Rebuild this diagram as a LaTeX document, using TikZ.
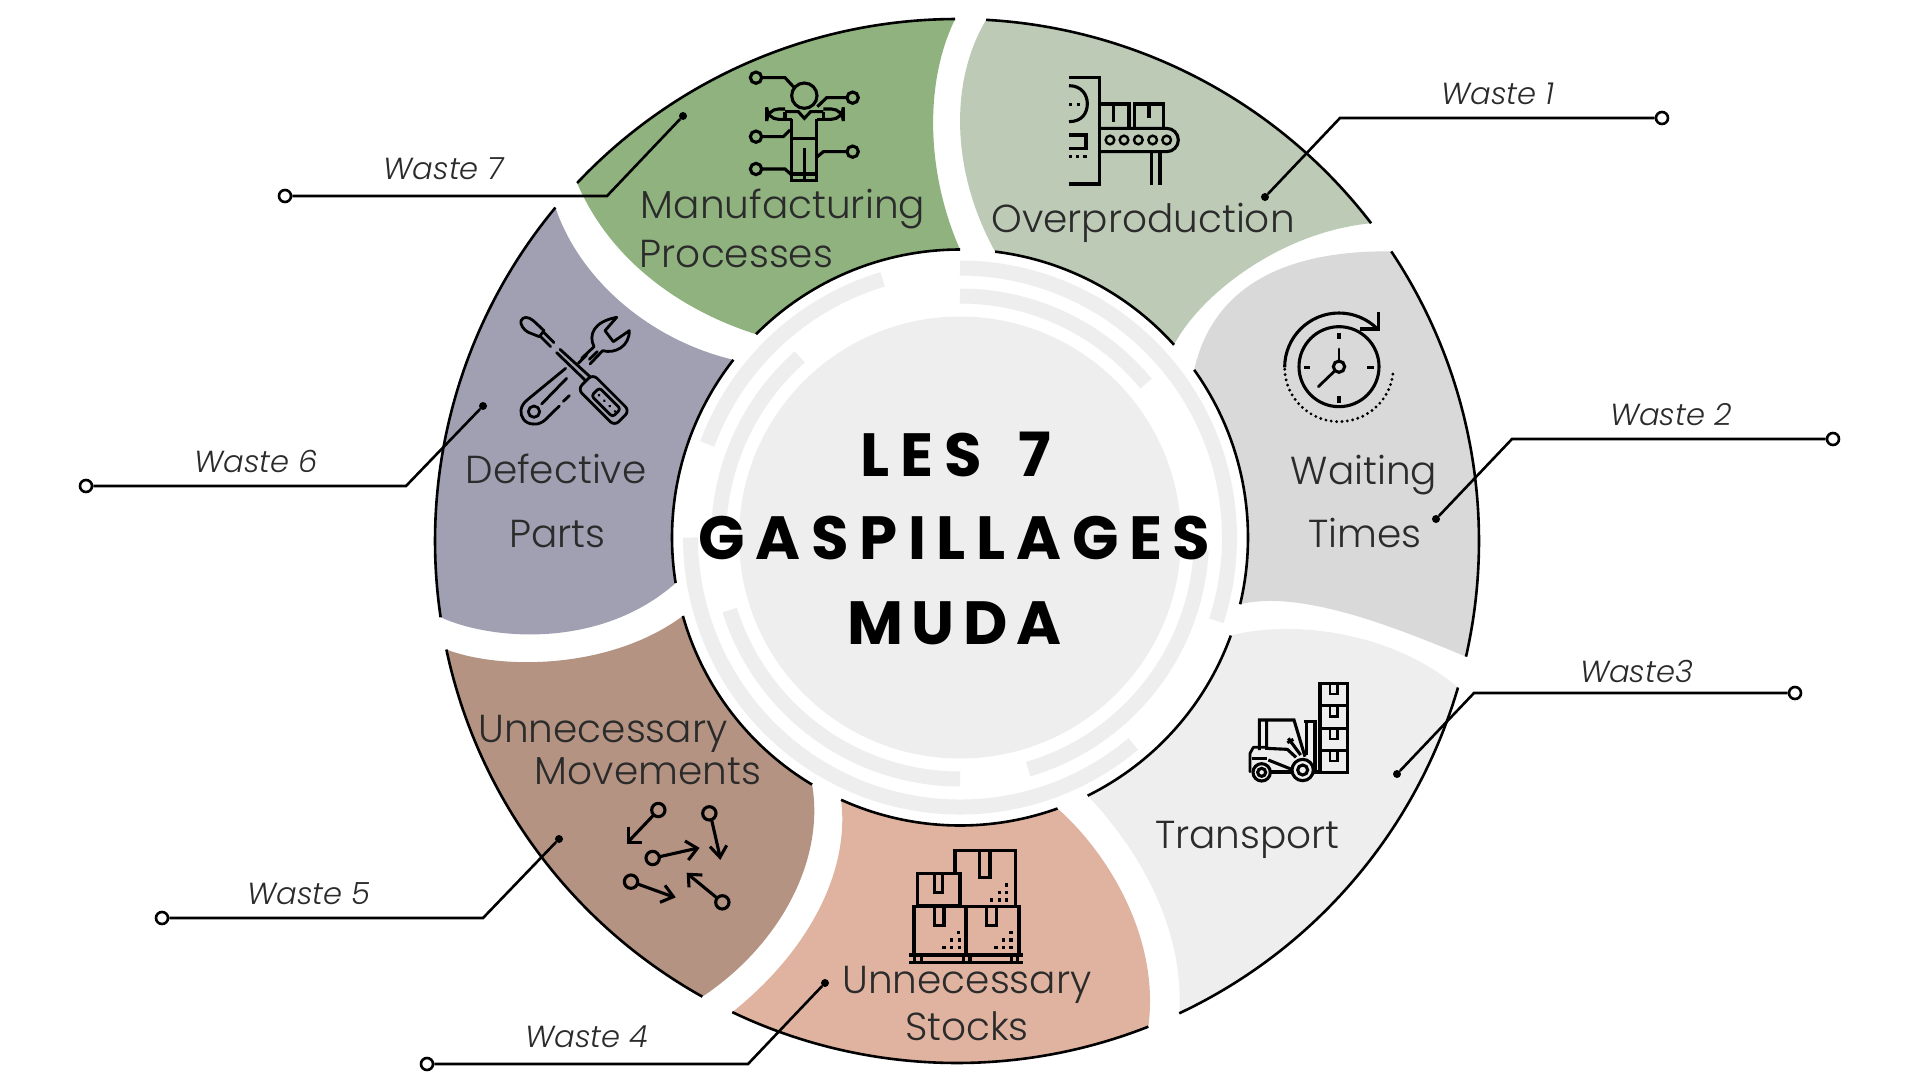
\documentclass[tikz,border=0pt]{standalone}
\usepackage{fontspec}
\newfontfamily\labfont{Poppins Light}
\newfontfamily\wastefont{Poppins Light Italic}
\newfontfamily\cenfont[LetterSpace=17.5]{Poppins}
\newfontfamily\cenfontb[LetterSpace=14]{Poppins}
\definecolor{cOver}{HTML}{BCCAB6}
\definecolor{cWait}{HTML}{D9D9D9}
\definecolor{cTrans}{HTML}{EEEEEE}
\definecolor{cStock}{HTML}{E0B3A0}
\definecolor{cMove}{HTML}{B49382}
\definecolor{cDef}{HTML}{A0A0B2}
\definecolor{cManu}{HTML}{8FB27F}
\definecolor{cRing}{HTML}{EEEEEE}
\definecolor{cTxt}{HTML}{2B2B2B}
\newcommand{\outarc}[2]{\draw[blk] ([shift={(#1:522)}]957,541) arc[start angle=#1,end angle=#2,radius=522];}
\newcommand{\inarc}[2]{\draw[blk] ([shift={(#1:288)}]960,537.5) arc[start angle=#1,end angle=#2,radius=288];}
\newcommand{\ringarc}[3]{\draw[ringline] ([shift={(#2:#1)}]960,537.5) arc[start angle=#2,end angle=#3,radius=#1];}
\tikzset{
  blk/.style={draw=black,line width=2.6pt},
  ringline/.style={draw=cRing,line width=15pt},
  lab/.style={anchor=base,text=cTxt,inner sep=0pt,font=\labfont\fontsize{39}{39}\selectfont},
  wastelab/.style={anchor=base,text=cTxt,inner sep=0pt,font=\wastefont\fontsize{30.5}{30.5}\selectfont},
  cen/.style={anchor=base,text=black,inner sep=0pt,font=\cenfont\bfseries\fontsize{61}{61}\selectfont},
  cenb/.style={anchor=base,text=black,inner sep=0pt,font=\cenfontb\bfseries\fontsize{61}{61}\selectfont},
  conn/.style={draw=black,line width=2.6pt},
  enddot/.style={circle,fill=black,minimum size=8pt,inner sep=0pt},
  endring/.style={circle,draw=black,line width=2.6pt,fill=white,minimum size=12pt,inner sep=0pt},
  ic/.style={draw=black,line width=3.1pt,line cap=butt,line join=miter},
  icr/.style={draw=black,line width=2.8pt,line cap=round,line join=round},
  zoomed/.style={x=.33333pt,y=-.33333pt},
}
\begin{document}
\begin{tikzpicture}[x=1pt,y=-1pt]
\useasboundingbox (0,0) rectangle (1920,1080);
\fill[white] (0,0) rectangle (1920,1080);
% petals
\fill[cOver] ([shift={(-86.8:522)}]957,541) arc[start angle=-86.8,end angle=-37.5,radius=522]
  .. controls (1280,232) and (1200,295) .. ([shift={(-42:288)}]960,537.5)
  arc[start angle=-42,end angle=-83,radius=288]
  .. controls (950,170) and (950,80) .. cycle;
\fill[cWait] ([shift={(-33.7:522)}]957,541) arc[start angle=-33.7,end angle=12.8,radius=522]
  .. controls (1390,625) and (1300,590) .. ([shift={(13.4:288)}]960,537.5)
  arc[start angle=13.4,end angle=-35.6,radius=288]
  .. controls (1212,290) and (1280,250) .. cycle;
\fill[cTrans] ([shift={(16.3:522)}]957,541) arc[start angle=16.3,end angle=64.8,radius=522]
  .. controls (1185,920) and (1130,840) .. ([shift={(63.7:288)}]960,537.5)
  arc[start angle=63.7,end angle=19.9,radius=288]
  .. controls (1290,620) and (1390,630) .. cycle;
\fill[cStock] ([shift={(68.5:522)}]957,541) arc[start angle=68.5,end angle=115.5,radius=522]
  .. controls (810,950) and (850,870) .. ([shift={(114.4:288)}]960,537.5)
  arc[start angle=114.4,end angle=70.2,radius=288]
  .. controls (1110,855) and (1160,940) .. cycle;
\fill[cMove] ([shift={(119.2:522)}]957,541) arc[start angle=119.2,end angle=168,radius=522]
  .. controls (500,670) and (610,670) .. ([shift={(164.2:288)}]960,537.5)
  arc[start angle=164.2,end angle=120.9,radius=288]
  .. controls (825,860) and (780,945) .. cycle;
\fill[cDef] ([shift={(171.6:522)}]957,541) arc[start angle=171.6,end angle=219.7,radius=522]
  .. controls (580,280) and (650,340) .. ([shift={(218.1:288)}]960,537.5)
  arc[start angle=218.1,end angle=170.9,radius=288]
  .. controls (600,650) and (490,640) .. cycle;
\fill[cManu] ([shift={(223.3:522)}]957,541) arc[start angle=223.3,end angle=269.8,radius=522]
  .. controls (925,80) and (925,170) .. ([shift={(270:288)}]960,537.5)
  arc[start angle=270,end angle=224.9,radius=288]
  .. controls (680,310) and (610,260) .. cycle;
% black arcs
\outarc{-86.8}{-37.5}\outarc{-33.7}{12.8}\outarc{16.3}{64.8}\outarc{68.5}{115.5}\outarc{119.2}{168}\outarc{171.6}{219.7}\outarc{223.3}{269.8}
\inarc{-83}{-42}\inarc{-35.6}{13.4}\inarc{19.9}{63.7}\inarc{70.2}{114.4}\inarc{120.9}{164.2}\inarc{170.9}{218.1}\inarc{224.9}{270}
% centre
\fill[cRing] (960,537.5) circle[radius=221];
\ringarc{269.5}{-90}{18}
\ringarc{269.5}{50}{180}
\ringarc{269.5}{200.3}{253.3}
\ringarc{241.5}{-90}{-39.6}
\ringarc{241.5}{3}{73.6}
\ringarc{241.5}{90}{162.5}
\ringarc{241.5}{184}{228.4}
\node[cen] (t1) at (956,476) {LES\hspace{13pt} 7};
\node[cen] (t2) at (954.5,559) {GASPILLAGES};
\node[cenb] (t3) at (954,644) {MUDA};
% petal labels
\node[lab] (l1) at (1143,232) {Overproduction};
\node[lab] (l2a) at (1364,484) {Waiting};
\node[lab] (l2b) at (1365,547) {Times};
\node[lab] (l3) at (1247.5,848) {Transport};
\node[lab] (l4a) at (967,993) {Unnecessary};
\node[lab] (l4b) at (967,1040) {Stocks};
\node[lab] (l5a) at (603,742) {Unnecessary};
\node[lab] (l5b) at (648,784) {Movements};
\node[lab] (l6a) at (556,483) {Defective};
\node[lab] (l6b) at (557.5,547) {Parts};
\node[lab] (l7a) at (783,218) {Manufacturing};
\node[lab] (l7b) at (736.5,267) {Processes};
% connectors
\node[enddot] (d1) at (1265,197) {}; \coordinate (e1) at (1340,118); \node[endring] (o1) at (1662,118) {};
\node[enddot] (d2) at (1436,519) {}; \coordinate (e2) at (1512,439); \node[endring] (o2) at (1833,439) {};
\node[enddot] (d3) at (1397,774) {}; \coordinate (e3) at (1474,693); \node[endring] (o3) at (1795,693) {};
\node[enddot] (d4) at (825,983) {}; \coordinate (e4) at (748,1064); \node[endring] (o4) at (427,1064) {};
\node[enddot] (d5) at (559,839) {}; \coordinate (e5) at (483,918); \node[endring] (o5) at (162,918) {};
\node[enddot] (d6) at (483,406) {}; \coordinate (e6) at (406,486); \node[endring] (o6) at (86,486) {};
\node[enddot] (d7) at (683,116) {}; \coordinate (e7) at (607,196); \node[endring] (o7) at (285,196) {};
\draw[conn] (d1) -- (e1) -- (o1);
\draw[conn] (d2) -- (e2) -- (o2);
\draw[conn] (d3) -- (e3) -- (o3);
\draw[conn] (d4) -- (e4) -- (o4);
\draw[conn] (d5) -- (e5) -- (o5);
\draw[conn] (d6) -- (e6) -- (o6);
\draw[conn] (d7) -- (e7) -- (o7);
\node[wastelab] (w1) at (1498,104) {Waste 1};
\node[wastelab] (w2) at (1671,425) {Waste 2};
\node[wastelab] (w3) at (1636.5,682) {Waste3};
\node[wastelab] (w4) at (587,1047) {Waste 4};
\node[wastelab] (w5) at (309,904) {Waste 5};
\node[wastelab] (w6) at (256,472) {Waste 6};
\node[wastelab] (w7) at (444,179) {Waste 7};
% --- icon: overproduction
\begin{scope}[shift={(950,0)},zoomed]
\draw[ic] (357,232) -- (448,232) -- (448,552) -- (357,552);
\draw[ic] (357,257) .. controls (395,257) and (412,285) .. (412,311) .. controls (412,340) and (395,365) .. (357,365);
\draw[ic] (357,405) -- (408,405) -- (408,445) -- (357,445);
\foreach \xx in {357,380}{\draw[ic] (\xx,313) -- +(10,0);}
\foreach \xx in {357,378,400}{\draw[ic] (\xx,470) -- +(10,0);}
\draw[ic] (448,312) -- (537,312) -- (537,385);
\draw[ic] (490,312) -- (490,365);
\draw[ic] (553,385) -- (553,312) -- (640,312) -- (640,385);
\draw[ic] (597,312) -- (597,355);
\draw[ic] (448,385) -- (650,385) arc[start angle=-90,end angle=90,radius=35] -- (448,455);
\foreach \xx in {480,522,565,608,650}{\draw[line width=2.4pt] (\xx,420) circle[radius=13];}
\draw[ic] (605,455) -- (605,555);
\draw[ic] (630,455) -- (630,555);
\end{scope}
% --- icon: clock
\begin{scope}[shift={(1180,240)},zoomed]
\draw[ic] (477,380) circle[radius=120];
\draw[ic] (477,380) circle[radius=17];
\draw[icr] (477,362) -- (477,327);
\draw[icr] (465,392) -- (415,440);
\draw[ic] (477,280) -- (477,298);
\draw[ic] (477,467) -- (477,490);
\draw[ic] (372,382) -- (390,382);
\draw[ic] (562,382) -- (582,382);
\draw[ic] ([shift={(180:163)}]477,382) arc[start angle=180,end angle=315,radius=163];
\draw[ic] (540,267) -- (595,267) -- (595,217);
\draw[line width=3.2pt,line cap=round,dash pattern=on 0pt off 5.4pt] ([shift={(178:163)}]477,382) arc[start angle=178,end angle=2,radius=163];
\end{scope}
% --- icon: forklift
\begin{scope}[shift={(1080,640)},zoomed]
\draw[ic] (720,130) rectangle (802,398);
\foreach \yy in {197,265,331}{\draw[ic] (720,\yy) -- (802,\yy);}
\foreach \yy in {134,201,269,335}{\draw[line width=2.6pt] (750,\yy) -- (750,\yy+28) -- (772,\yy+28) -- (772,\yy);}
\draw[ic] (672,245) -- (705,245) -- (705,396);
\draw[ic] (680,245) -- (680,345);
\draw[ic] (538,330) -- (538,240) -- (642,240) -- (675,350);
\draw[ic] (560,240) -- (560,325) -- (622,328) -- (648,352);
\draw[icr] (510,395) -- (510,340) -- (520,322) -- (560,322);
\draw[ic] (565,360) -- (640,390);
\draw[ic] (572,396) -- (640,396);
\draw[ic] (700,396) -- (720,396);
\draw[ic] (625,295) -- (662,345);
\draw[ic] (640,298) -- (622,308);
\draw[ic] (515,355) -- (560,355);
\draw[ic,fill=cTrans] (545,397) circle[radius=26];
\draw[ic,fill=cTrans] (668,390) circle[radius=32];
\draw[ic] (545,397) circle[radius=12];
\draw[ic] (668,390) circle[radius=15];
\end{scope}
% --- icon: boxes
\begin{scope}[shift={(720,760)},zoomed]
\draw[ic] (705,335) -- (705,272) -- (887,272) -- (887,437);
\draw[ic] (778,272) -- (778,352) -- (810,352) -- (810,272);
\draw[ic] (593,340) rectangle (720,438);
\draw[ic] (643,345) -- (643,397) -- (668,397) -- (668,345);
\draw[ic] (582,440) rectangle (738,583);
\draw[ic] (643,445) -- (643,497) -- (672,497) -- (672,445);
\draw[ic] (740,440) rectangle (897,583);
\draw[ic] (800,445) -- (800,497) -- (830,497) -- (830,445);
\draw[ic] (568,585) -- (910,585);
\draw[ic] (568,608) -- (910,608);
\foreach \xx in {583,605,730,750,875,893}{\draw[ic] (\xx,585) -- (\xx,608);}
\foreach \dx/\dy in {715/518,695/540,718/540,672/563,695/563,718/563,873/518,850/540,873/540,828/563,850/563,873/563,860/375,838/397,860/397,815/420,838/420,860/420}{
  \fill[black] (\dx-5,\dy-5) rectangle (\dx+5,\dy+5);}
\end{scope}
% --- icon: moves
\begin{scope}[shift={(430,630)},zoomed]
\foreach \cx/\cy in {685/540,838/550,668/684,603/755,877/817}{\draw[ic] (\cx,\cy) circle[radius=20];}
\draw[ic] (670,556) -- (595,635); \draw[ic] (595,590) -- (595,637) -- (637,637);
\draw[ic] (845,570) -- (870,680); \draw[ic] (840,650) -- (870,682) -- (890,646);
\draw[ic] (689,680) -- (800,655); \draw[ic] (765,633) -- (802,655) -- (775,690);
\draw[ic] (623,762) -- (728,800); \draw[ic] (705,766) -- (730,800) -- (690,817);
\draw[ic] (860,803) -- (777,735); \draw[ic] (777,772) -- (775,733) -- (817,735);
\end{scope}
% --- icon: tools
\begin{scope}[shift={(420,200)},zoomed]
% wrench
\draw[icr] (340,672) .. controls (315,672) and (300,650) .. (303,630) .. controls (305,615) and (315,605) .. (325,597) -- (437,505);
\draw[icr] (340,672) .. controls (365,674) and (375,660) .. (385,650) -- (418,618);
\draw[icr] (430,604) -- (448,587);
\draw[icr] (342,635) circle[radius=17];
\draw[icr] (365,612) -- (440,535);
\draw[icr] (485,475) -- (522,440) .. controls (505,405) and (520,365) .. (590,352) -- (555,392) -- (580,425) -- (628,392) .. controls (628,440) and (585,462) .. (548,452) -- (510,492);
\draw[icr] (475,490) -- (500,465);
\draw[icr] (508,478) -- (532,455);
% screwdriver
\draw[icr] (303,362) .. controls (310,348) and (325,350) .. (340,362) -- (372,392) -- (358,410) -- (325,397) .. controls (312,390) and (300,375) .. cycle;
\draw[icr] (372,398) -- (402,428);
\draw[icr] (360,408) -- (392,440);
\draw[icr] (420,448) -- (510,530);
\draw[icr] (410,458) -- (497,542);
\begin{scope}[shift={(551,600)},rotate=-45]
\draw[icr,rounded corners=6pt] (-78,-32) rectangle (78,32);
\draw[icr,rounded corners=3pt] (-35,-17) rectangle (55,17);
\foreach \xx in {-20,3,26,48}{\fill[black] (\xx,0) circle[radius=4.5];}
\end{scope}
\end{scope}
% --- icon: person
\begin{scope}[shift={(540,0)},zoomed]
\draw[ic] (793,287) circle[radius=38];
\draw[ic,rounded corners=12pt] (735,327) -- (680,327) -- (680,358) -- (735,358);
\draw[ic,rounded corners=12pt] (850,327) -- (910,327) -- (910,358) -- (850,358);
\draw[ic] (735,335) -- (775,335) -- (793,355) -- (812,335) -- (850,335);
\draw[ic] (735,335) -- (735,358) -- (755,358);
\draw[ic] (850,335) -- (850,358) -- (830,358);
\draw[ic] (755,358) -- (755,542) -- (830,542) -- (830,358);
\draw[ic] (755,415) -- (830,415);
\draw[ic] (793,445) -- (793,542);
\draw[ic] (755,522) -- (830,522);
\foreach \cx/\cy in {648/233,938/293,648/410,938/455,648/507}{\draw[ic] (\cx,\cy) circle[radius=17];}
\draw[ic] (665,233) -- (735,233) -- (762,262);
\draw[ic] (921,293) -- (860,293) -- (832,320);
\draw[ic] (665,410) -- (730,410) -- (750,390);
\draw[ic] (921,455) -- (850,455) -- (832,470);
\draw[ic] (665,507) -- (735,507) -- (755,525);
\end{scope}
\end{tikzpicture}
\end{document}
